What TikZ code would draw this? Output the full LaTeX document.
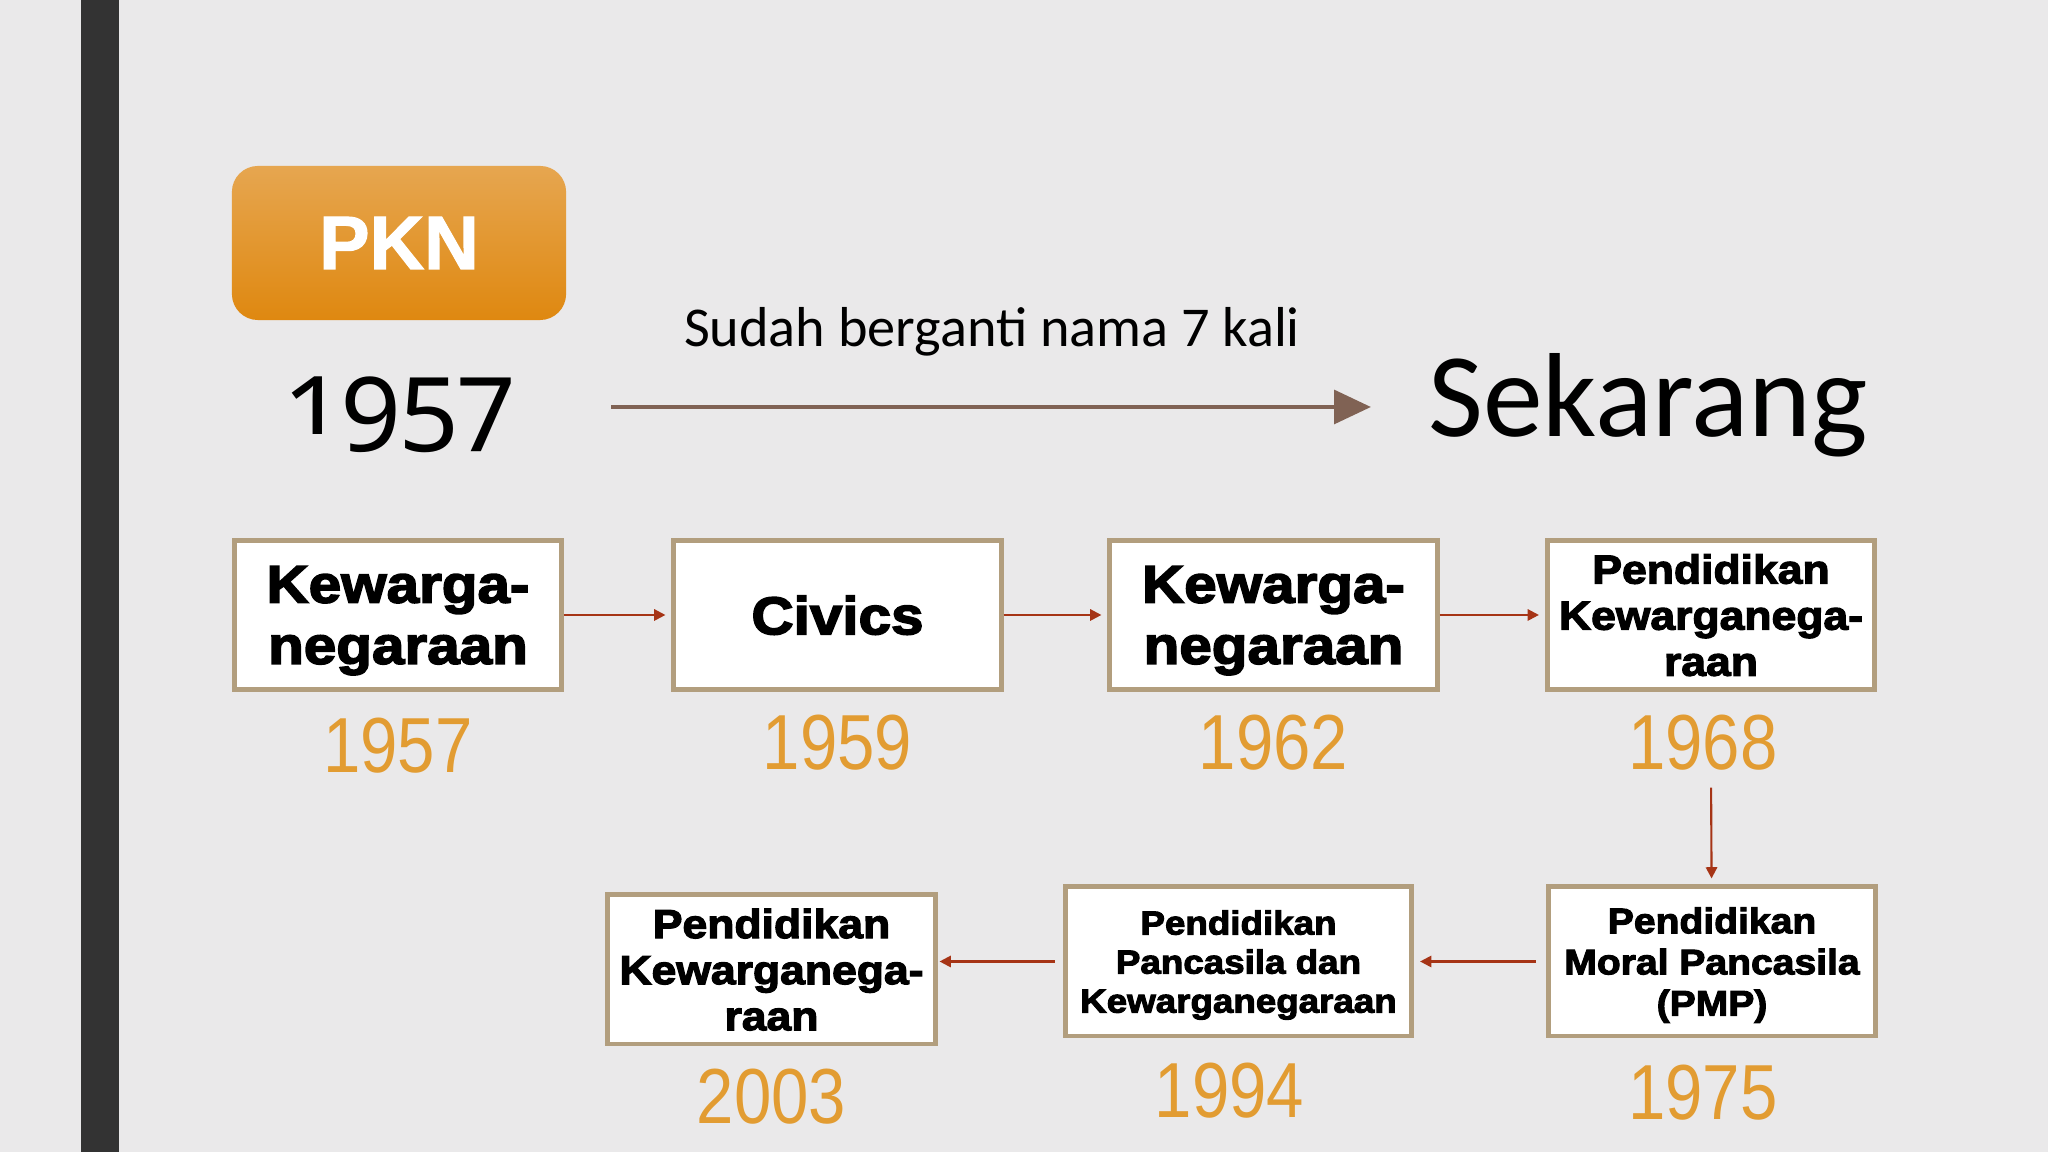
\documentclass[tikz,border=0pt]{standalone}
\usepackage{fontspec}
\usetikzlibrary{positioning,arrows.meta}
\setmainfont{Carlito}
\newfontfamily\calnum{Noto Sans}[Numbers=OldStyle]
\newfontfamily\boxfont{Liberation Sans Bold}[FakeStretch=1.1,FakeBold=3]
\newfontfamily\yearfont{Liberation Sans}[FakeStretch=0.86]
\newfontfamily\pknfont{Liberation Sans Bold}[FakeBold=1.5]
\definecolor{bgcol}{RGB}{234,233,234}
\definecolor{barcol}{RGB}{51,51,51}
\definecolor{pkntop}{RGB}{230,166,80}
\definecolor{pknbot}{RGB}{223,136,16}
\definecolor{boxline}{RGB}{178,158,126}
\definecolor{redarrow}{RGB}{166,52,22}
\definecolor{yearcol}{RGB}{226,156,50}
\definecolor{brownarrow}{RGB}{128,98,84}

\begin{document}
\begin{tikzpicture}[x=0.01cm,y=0.01cm,>={Triangle[length=3.2pt,width=3.2pt]},
    box/.style={draw=boxline, line width=1.4pt, fill=white, minimum width=3.27cm, minimum height=1.49cm, inner sep=0pt, text depth=0pt, align=center},
    big/.style={font=\boxfont\fontsize{15.1}{17.4}\selectfont},
    year/.style={inner sep=0pt, text=yearcol, font=\yearfont\fontsize{22.2}{24}\selectfont},
    link/.style={->, draw=redarrow, line width=0.6pt, shorten >=0.06cm}]

    \useasboundingbox[fill=bgcol] (0,0) rectangle (2048,1152);
    \fill[barcol] (81,0) rectangle (119,1152);

    % header
    \node[rounded corners=0.26cm, top color=pkntop, bottom color=pknbot, minimum width=3.34cm, minimum height=1.54cm, text=white, font=\pknfont\fontsize{21.5}{24}\selectfont] (pkn) at (399,909) {PKN};
    \node[anchor=base, font=\calnum\fontsize{30}{32}\selectfont] (start) at (400,717) {1957};
    \node[anchor=base, font=\fontsize{34}{38}\selectfont] (now) at (1648,715) {Sekarang};
    \node[anchor=base, font=\fontsize{16}{18}\selectfont] (note) at (992,805) {Sudah berganti nama 7 kali};
    \coordinate (from) at (611,745);
    \coordinate (to) at (1371,745);
    \draw[-{Triangle[length=10.5pt,width=9.5pt]}, draw=brownarrow, line width=1.4pt] (from) -- (to);

    % first row
    \node[box, big] (1) at (398,537) {Kewarga-\\negaraan};
    \node[box, big] (2) at (837.5,537) {Civics};
    \node[box, big] (3) at (1273.5,537) {Kewarga-\\negaraan};
    \node[box, font=\boxfont\fontsize{11.5}{13.1}\selectfont] (4) at (1711,537) {Pendidikan\\Kewarganega-\\raan};

    % second row
    \node[box, font=\boxfont\fontsize{10.1}{11.7}\selectfont] (5) at (1712,190.5) {Pendidikan\\Moral Pancasila\\(PMP)};
    \node[box, minimum width=3.46cm, font=\boxfont\fontsize{9.5}{11.1}\selectfont] (6) at (1238.5,190.5) {Pendidikan\\Pancasila dan\\Kewarganegaraan};
    \node[box, font=\boxfont\fontsize{11.5}{13.1}\selectfont] (7) at (771.5,182.5) {Pendidikan\\Kewarganega-\\raan};

    % years
    \node[year] (y1) [below = 0.25cm of 1] {1957};
    \node[year] (y2) [below = 0.22cm of 2] {1959};
    \node[year] (y3) [below = 0.22cm of 3] {1962};
    \node[year, xshift=-0.08cm] (y4) [below = 0.22cm of 4] {1968};
    \node[year, xshift=-0.09cm] (y5) [below = 0.26cm of 5] {1975};
    \node[year, xshift=-0.09cm] (y6) [below = 0.24cm of 6] {1994};
    \node[year] (y7) [below = 0.22cm of 7] {2003};

    \path
        (1) edge[link] (2)
        (2) edge[link] (3)
        (3) edge[link] (4)
        (y4.south -| 4.south) edge[link, shorten <=0.17cm] (5)
        (5) edge[link, shorten <=0.1cm] (6)
        (6.west) edge[link, shorten <=0.08cm, shorten >=0.02cm] (6.west -| 7.east)
    ;
\end{tikzpicture}
\end{document}
